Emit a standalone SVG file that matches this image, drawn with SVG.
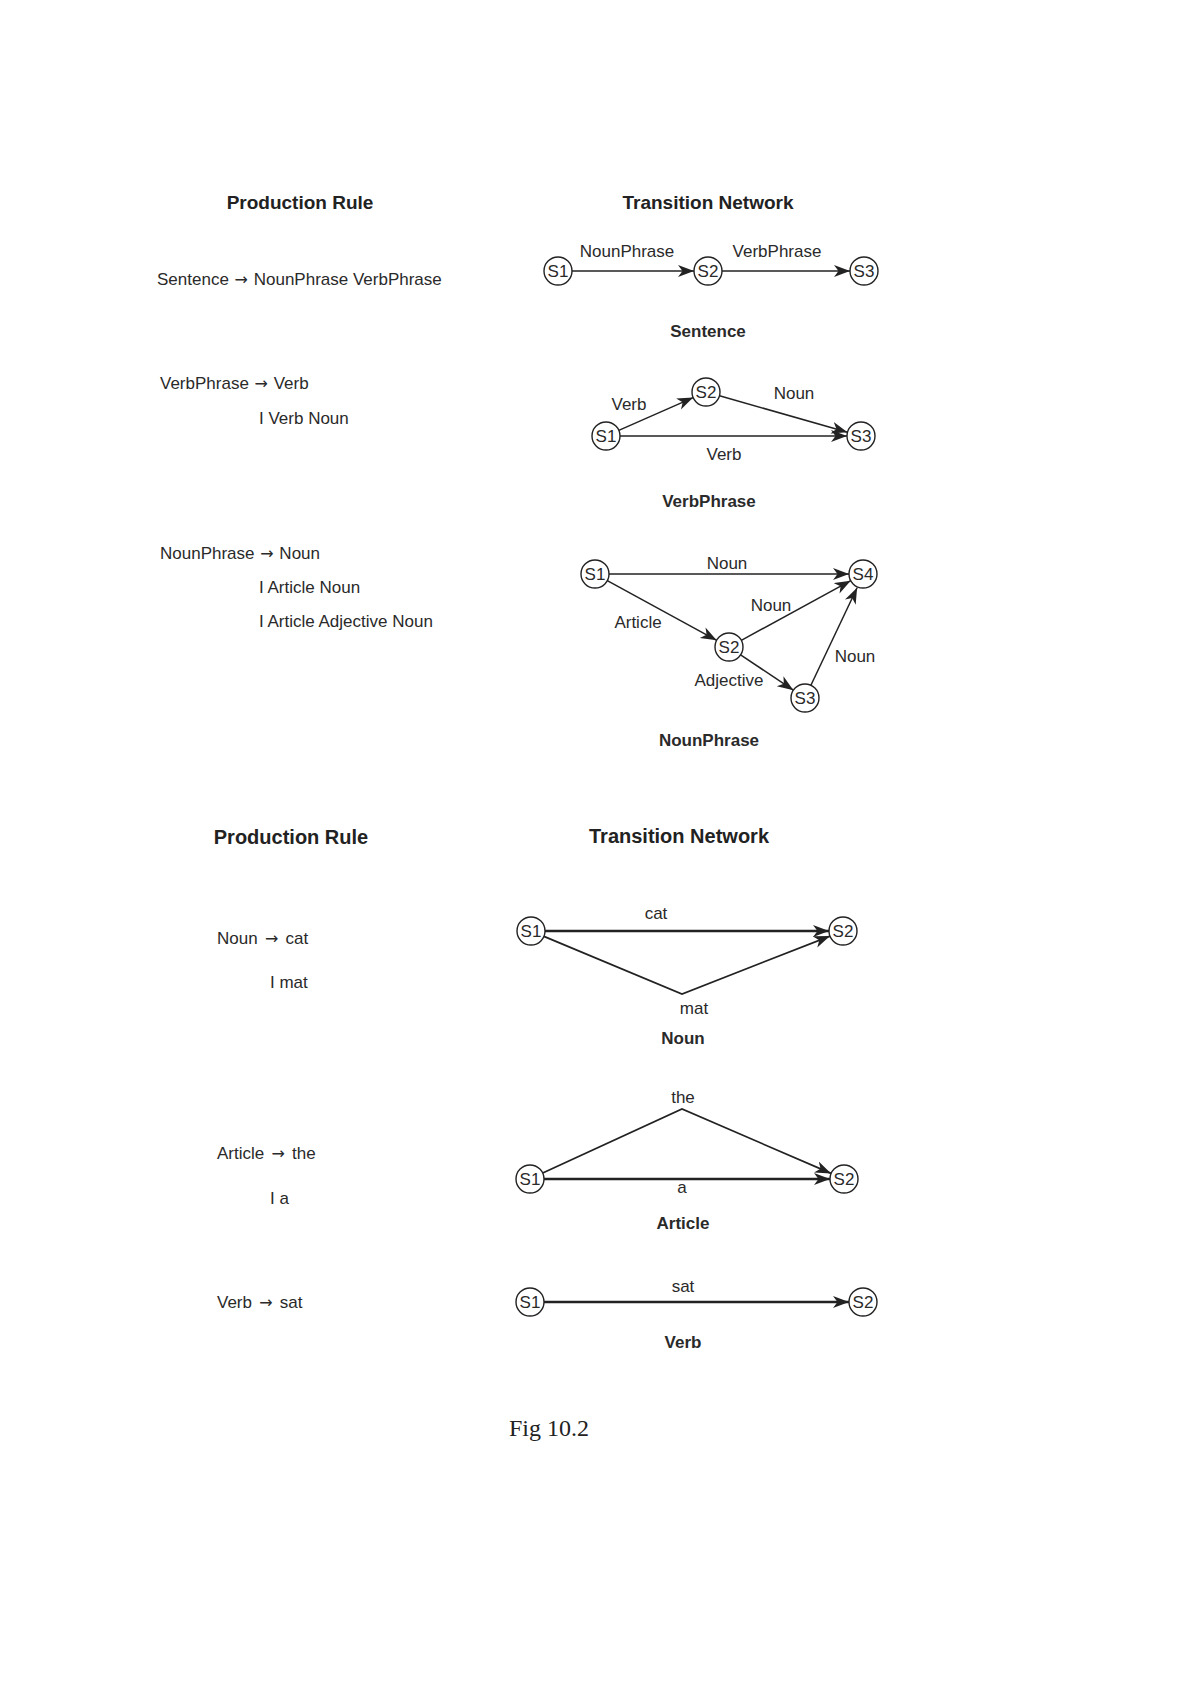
<svg xmlns="http://www.w3.org/2000/svg" width="1200" height="1698" viewBox="0 0 1200 1698">
<style>
.t{font-family:"Liberation Sans",Arial,sans-serif;font-size:17px;fill:#2a2a2a}
.ar{font-family:"DejaVu Sans",sans-serif;font-size:16px}
.c{text-anchor:middle}
.b{font-weight:bold}
.h{font-family:"Liberation Sans",Arial,sans-serif;font-weight:bold;font-size:19px;fill:#222;text-anchor:middle}
.n circle{fill:#fff;stroke:#222;stroke-width:1.4}
.n text{font-family:"Liberation Sans",Arial,sans-serif;font-size:17px;fill:#2a2a2a;text-anchor:middle}
.e{fill:none;stroke:#222;stroke-width:1.5;marker-end:url(#ah)}
.e2{fill:none;stroke:#222;stroke-width:2.4;marker-end:url(#ah)}
.e3{fill:none;stroke:#222;stroke-width:1.7;marker-end:url(#ah)}
</style>
<defs>
<marker id="ah" markerUnits="userSpaceOnUse" markerWidth="18" markerHeight="14" refX="16" refY="6" orient="auto">
<path d="M0,0 L16,6 L0,12 L4.5,6 z" fill="#222"/>
</marker>
</defs>
<rect width="1200" height="1698" fill="#fff"/>

<!-- headers -->
<text class="h" x="300" y="209">Production Rule</text>
<text class="h" x="708" y="209">Transition Network</text>
<text class="h" x="291" y="844" style="font-size:20px">Production Rule</text>
<text class="h" x="679" y="843" style="font-size:20px">Transition Network</text>

<!-- production rules -->
<g id="rules">
<text class="t" x="157" y="285">Sentence <tspan class="ar" dx="1">→</tspan><tspan dx="1"> NounPhrase VerbPhrase</tspan></text>
<text class="t" x="160" y="389">VerbPhrase <tspan class="ar" dx="1">→</tspan><tspan dx="1"> Verb</tspan></text>
<text class="t" x="259" y="424">I Verb Noun</text>
<text class="t" x="160" y="559">NounPhrase <tspan class="ar" dx="1">→</tspan><tspan dx="1"> Noun</tspan></text>
<text class="t" x="259" y="593">I Article Noun</text>
<text class="t" x="259" y="627">I Article Adjective Noun</text>
<text class="t" x="217" y="944">Noun <tspan class="ar" dx="2.5">→</tspan><tspan dx="2.5"> cat</tspan></text>
<text class="t" x="270" y="988">I mat</text>
<text class="t" x="217" y="1159">Article <tspan class="ar" dx="2.5">→</tspan><tspan dx="2.5"> the</tspan></text>
<text class="t" x="270" y="1204">I a</text>
<text class="t" x="217" y="1308">Verb <tspan class="ar" dx="2.5">→</tspan><tspan dx="2.5"> sat</tspan></text>
</g>

<!-- connectors -->
<g id="connectors">
<line class="e" x1="572" y1="271" x2="694" y2="271"/>
<line class="e" x1="722" y1="271" x2="850" y2="271"/>

<line class="e" x1="618.8" y1="430.4" x2="693.2" y2="397.6"/>
<line class="e" x1="719.5" y1="395.8" x2="847.5" y2="432.2"/>
<line class="e" x1="620" y1="436" x2="847" y2="436"/>

<line class="e" x1="609" y1="574" x2="849" y2="574"/>
<line class="e" x1="607.3" y1="580.7" x2="716.7" y2="640.3"/>
<line class="e" x1="741.3" y1="640.3" x2="850.7" y2="580.7"/>
<line class="e" x1="740.6" y1="654.8" x2="793.4" y2="690.2"/>
<line class="e" x1="810.9" y1="685.3" x2="857.1" y2="587.7"/>

<line class="e2" x1="545" y1="931" x2="829" y2="931"/>
<polyline class="e3" points="543.9,936.4 682,994 830,936.1"/>

<polyline class="e3" points="542.7,1173.1 682,1109 831.1,1173.4"/>
<line class="e2" x1="544" y1="1179" x2="830" y2="1179"/>

<line class="e2" x1="544" y1="1302" x2="849" y2="1302"/>
</g>

<!-- edge labels -->
<g id="labels">
<text class="t c" x="627" y="257">NounPhrase</text>
<text class="t c" x="777" y="257">VerbPhrase</text>
<text class="t c b" x="708" y="337">Sentence</text>

<text class="t c" x="629" y="410">Verb</text>
<text class="t c" x="794" y="399">Noun</text>
<text class="t c" x="724" y="460">Verb</text>
<text class="t c b" x="709" y="507">VerbPhrase</text>

<text class="t c" x="727" y="569">Noun</text>
<text class="t c" x="771" y="611">Noun</text>
<text class="t c" x="638" y="628">Article</text>
<text class="t c" x="729" y="686">Adjective</text>
<text class="t c" x="855" y="662">Noun</text>
<text class="t c b" x="709" y="746">NounPhrase</text>

<text class="t c" x="656" y="919">cat</text>
<text class="t c" x="694" y="1014">mat</text>
<text class="t c b" x="683" y="1044">Noun</text>

<text class="t c" x="683" y="1103">the</text>
<text class="t c" x="682" y="1193">a</text>
<text class="t c b" x="683" y="1229">Article</text>

<text class="t c" x="683" y="1292">sat</text>
<text class="t c b" x="683" y="1348">Verb</text>
</g>

<!-- nodes -->
<g id="sent-s1" class="n"><circle cx="558" cy="271" r="14"/><text x="558" y="277">S1</text></g>
<g id="sent-s2" class="n"><circle cx="708" cy="271" r="14"/><text x="708" y="277">S2</text></g>
<g id="sent-s3" class="n"><circle cx="864" cy="271" r="14"/><text x="864" y="277">S3</text></g>

<g id="vp-s1" class="n"><circle cx="606" cy="436" r="14"/><text x="606" y="442">S1</text></g>
<g id="vp-s2" class="n"><circle cx="706" cy="392" r="14"/><text x="706" y="398">S2</text></g>
<g id="vp-s3" class="n"><circle cx="861" cy="436" r="14"/><text x="861" y="442">S3</text></g>

<g id="np-s1" class="n"><circle cx="595" cy="574" r="14"/><text x="595" y="580">S1</text></g>
<g id="np-s2" class="n"><circle cx="729" cy="647" r="14"/><text x="729" y="653">S2</text></g>
<g id="np-s3" class="n"><circle cx="805" cy="698" r="14"/><text x="805" y="704">S3</text></g>
<g id="np-s4" class="n"><circle cx="863" cy="574" r="14"/><text x="863" y="580">S4</text></g>

<g id="noun-s1" class="n"><circle cx="531" cy="931" r="14"/><text x="531" y="937">S1</text></g>
<g id="noun-s2" class="n"><circle cx="843" cy="931" r="14"/><text x="843" y="937">S2</text></g>

<g id="art-s1" class="n"><circle cx="530" cy="1179" r="14"/><text x="530" y="1185">S1</text></g>
<g id="art-s2" class="n"><circle cx="844" cy="1179" r="14"/><text x="844" y="1185">S2</text></g>

<g id="verb-s1" class="n"><circle cx="530" cy="1302" r="14"/><text x="530" y="1308">S1</text></g>
<g id="verb-s2" class="n"><circle cx="863" cy="1302" r="14"/><text x="863" y="1308">S2</text></g>

<text x="549" y="1436" style="font-family:'Liberation Serif','Times New Roman',serif;font-size:24px;fill:#222;text-anchor:middle">Fig 10.2</text>
</svg>
